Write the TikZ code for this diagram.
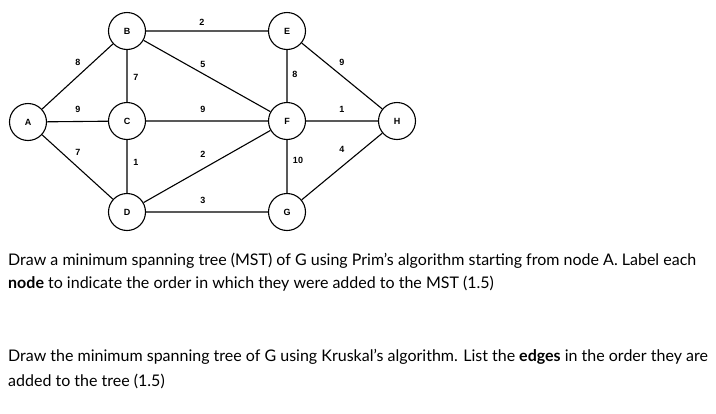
\documentclass[tikz,border=0pt]{standalone}
\usepackage{fontspec}
\setmainfont{Lato}
\newfontfamily\lab{Liberation Sans}
\begin{document}
\begin{tikzpicture}[x=1pt,y=-1pt,
  vert/.style={circle,draw,line width=1.1pt,minimum size=37pt,inner sep=0pt,font=\lab\bfseries\fontsize{9}{10}\selectfont},
  wt/.style={font=\lab\bfseries\fontsize{9}{10}\selectfont},
  edge/.style={line width=1.1pt},
  txt/.style={anchor=west,inner sep=0pt,font=\fontsize{16}{19}\selectfont}]
\useasboundingbox (0,0) rectangle (716,413);
\node[vert] (A) at (28,122) {A};
\node[vert] (B) at (127,31) {B};
\node[vert] (C) at (127,121) {C};
\node[vert] (D) at (127,212) {D};
\node[vert] (E) at (287,31) {E};
\node[vert] (F) at (287,121) {F};
\node[vert] (G) at (287,212) {G};
\node[vert] (H) at (397,121) {H};
\draw[edge] (A)--(B) (A)--(C) (A)--(D) (B)--(C) (B)--(E) (B)--(F) (C)--(F) (C)--(D)
  (D)--(F) (D)--(G) (E)--(F) (E)--(H) (F)--(H) (F)--(G) (G)--(H);
\node[wt] (w1) at (78,62) {8};
\node[wt] (w2) at (78,109) {9};
\node[wt] (w3) at (78,152) {7};
\node[wt] (w4) at (136,77) {7};
\node[wt] (w5) at (202,22) {2};
\node[wt] (w6) at (203,64) {5};
\node[wt] (w7) at (203,109) {9};
\node[wt] (w8) at (136,162) {1};
\node[wt] (w9) at (203,154) {2};
\node[wt] (w10) at (203,200) {3};
\node[wt] (w11) at (295,74) {8};
\node[wt] (w12) at (342,62) {9};
\node[wt] (w13) at (342,109) {1};
\node[wt] (w14) at (298,160) {10};
\node[wt] (w15) at (342,149) {4};
\node[txt] (t1) at (8,261) {Draw a minimum spanning tree (MST) of G using Prim’s algorithm starting from node A. Label each};
\node[txt] (t2) at (8,284) {\textbf{node} to indicate the order in which they were added to the MST (1.5)};
\node[txt] (t3) at (8,357) {Draw the minimum spanning tree of G using Kruskal’s algorithm. List the \textbf{edges} in the order they are};
\node[txt] (t4) at (8,381) {added to the tree (1.5)};
\end{tikzpicture}
\end{document}
